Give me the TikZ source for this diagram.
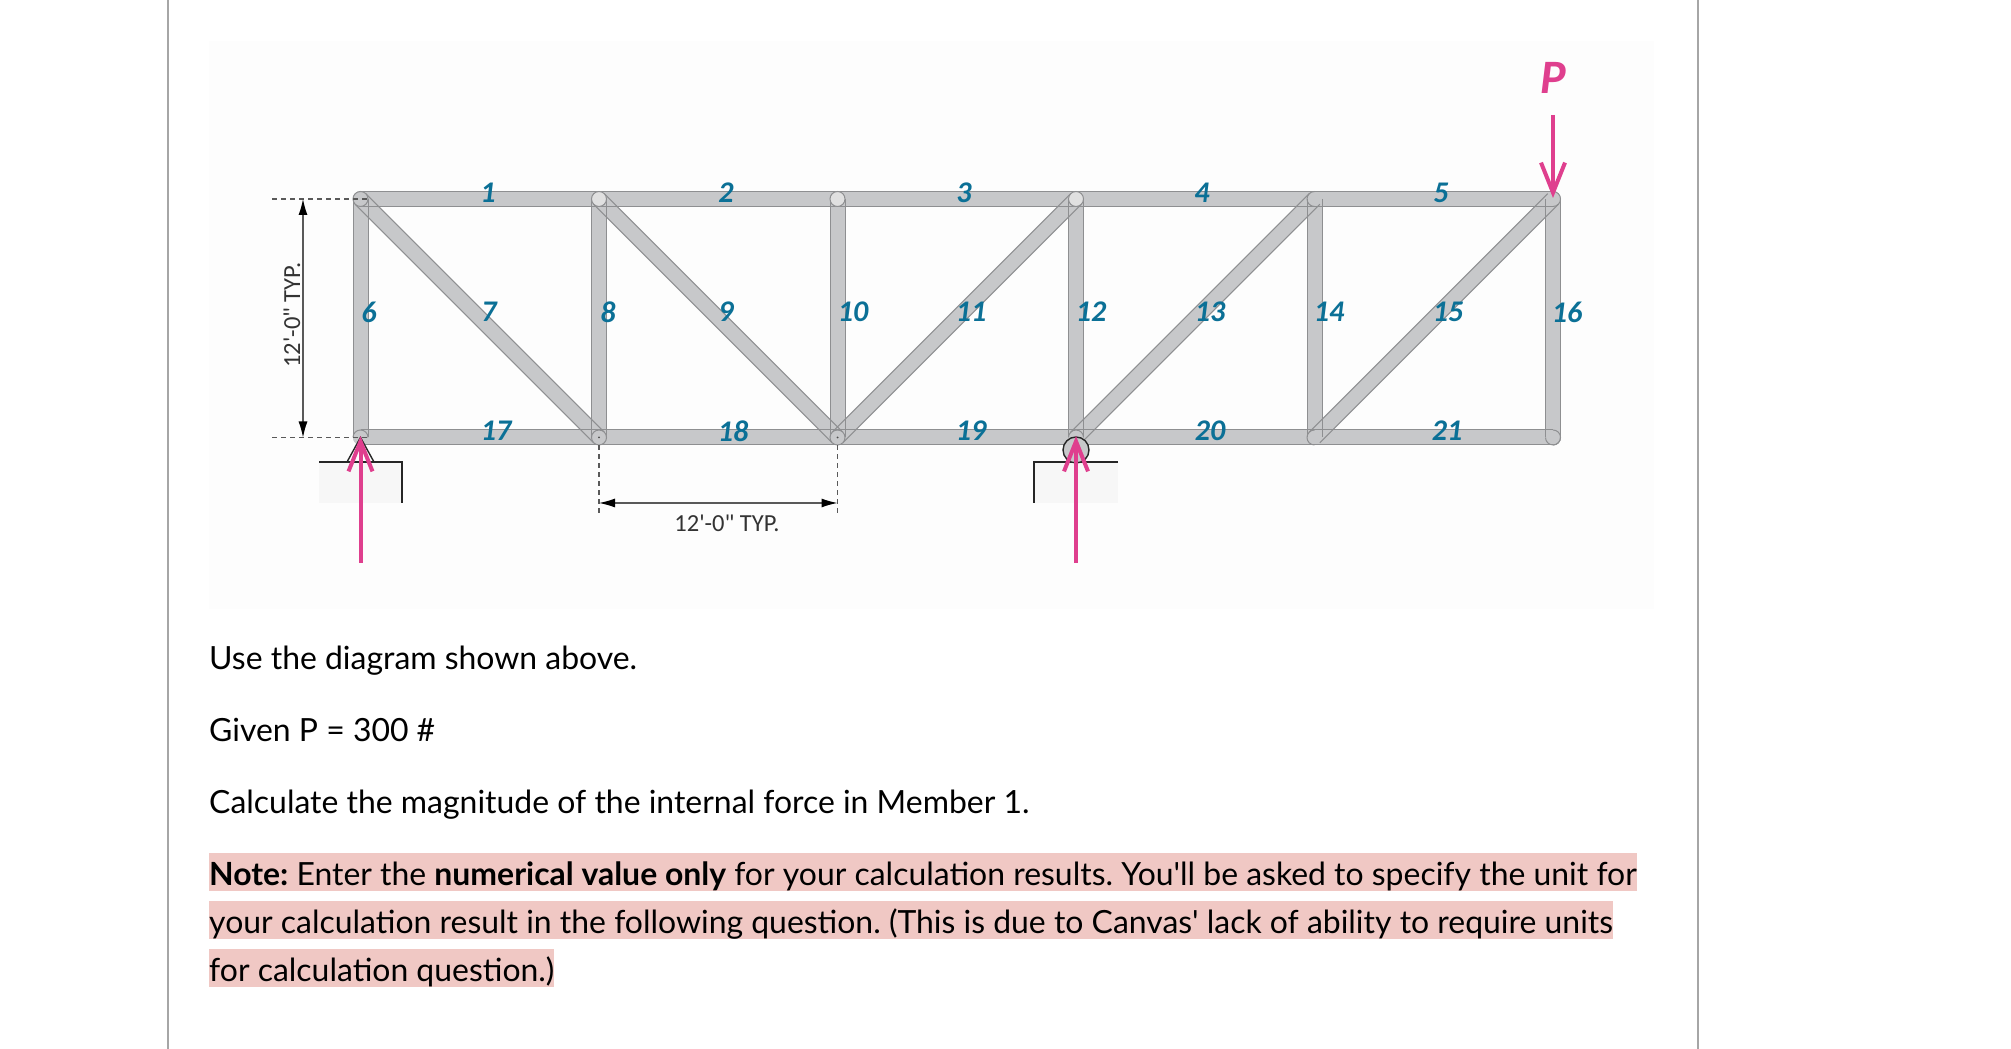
\documentclass[tikz,border=0pt]{standalone}
\usepackage{fontspec}
\setmainfont{Lato}[Ligatures=TeXOff]
\newfontfamily\labelfont{Carlito}[Ligatures=TeXOff]
\usepackage{tikz}
\usetikzlibrary{calc,arrows.meta}
\definecolor{barfill}{HTML}{C7C8CA}
\definecolor{baredge}{HTML}{8E8F91}
\definecolor{memblue}{HTML}{0B7096}
\definecolor{forcepink}{HTML}{DF3F8E}
\definecolor{notepink}{HTML}{F0C8C4}
\definecolor{framegray}{HTML}{A6A6A6}
\newcommand*{\barfill}[2]{\draw[barfill,line width=15,line cap=round] (#1) -- (#2);}
\newcommand*{\baredges}[2]{
  \draw[edgeline] ($(#1)!7.5pt!90:(#2)$) -- ($(#2)!7.5pt!-90:(#1)$);
  \draw[edgeline] ($(#1)!7.5pt!-90:(#2)$) -- ($(#2)!7.5pt!90:(#1)$);
}
\newcommand*{\ledge}[3]{
  \fill[black!3] (#1,546) rectangle (#2,587);
  \draw[line width=1.4,black!85] (#1,587) -- (#2,587) -- (#3,546);
}
\begin{document}
\frenchspacing
\begin{tikzpicture}[x=1pt,y=1pt]
\tikzstyle{edgeline}=[baredge,line width=1]
\tikzstyle{pinline}=[baredge,line width=1]
\tikzstyle{memlabel}=[memblue,inner sep=0pt,font=\labelfont\bfseries\itshape\fontsize{30}{30}\selectfont]
\tikzstyle{dimlabel}=[black!80,inner sep=0pt,font=\labelfont\fontsize{24.5}{25}\selectfont]
\tikzstyle{dimline}=[black!65,line width=1.2,{Latex[length=16,width=9,black]}-{Latex[length=16,width=9,black]}]
\tikzstyle{dimdash}=[black!65,line width=1.2,dash pattern=on 5pt off 4pt]
\tikzstyle{force}=[forcepink,line width=4,-{Straight Barb[length=30,width=24,line width=4]}]
\tikzstyle{bodytext}=[anchor=base west,inner sep=0pt,font=\fontsize{31.93}{32}\selectfont]
\tikzstyle{notetext}=[bodytext,fill=notepink,text height=32,text depth=6]
\useasboundingbox (0,0) rectangle (2011,1049);
\fill[white] (0,0) rectangle (2011,1049);
\fill[black!0.6] (209,440) rectangle (1654,1008);
\draw[framegray,line width=2] (168,0) -- (168,1049);
\draw[framegray,line width=2] (1698,0) -- (1698,1049);

% joints of the truss
\coordinate (t1) at (360.5,850);
\coordinate (t2) at (599,850);
\coordinate (t3) at (837.5,850);
\coordinate (t4) at (1076,850);
\coordinate (t5) at (1314.5,850);
\coordinate (t6) at (1553,850);
\coordinate (b1) at (360.5,611.5);
\coordinate (b2) at (599,611.5);
\coordinate (b3) at (837.5,611.5);
\coordinate (b4) at (1076,611.5);
\coordinate (b5) at (1314.5,611.5);
\coordinate (b6) at (1553,611.5);

\ledge{319}{402}{402}
\ledge{1118}{1034}{1034}

\barfill{t1}{b1}\barfill{t2}{b2}\barfill{t3}{b3}\barfill{t4}{b4}\barfill{t5}{b5}\barfill{t6}{b6}
\barfill{t1}{b2}\barfill{t2}{b3}\barfill{b3}{t4}\barfill{b4}{t5}\barfill{b5}{t6}
\barfill{t1}{t6}
\barfill{b1}{b6}

\baredges{t1}{b1}\baredges{t2}{b2}\baredges{t3}{b3}\baredges{t4}{b4}\baredges{t5}{b5}\baredges{t6}{b6}
\baredges{t1}{b2}\baredges{t2}{b3}\baredges{b3}{t4}\baredges{b4}{t5}\baredges{b5}{t6}
\baredges{t1}{t6}
\baredges{b1}{b6}

% pins at the joints
\draw[pinline,fill=barfill] (t1) circle (7.5);
\draw[pinline,fill=black!12] (t2) circle (7.5);
\draw[pinline,fill=black!12] (t3) circle (7.5);
\draw[pinline,fill=black!12] (t4) circle (7.5);
\draw[pinline,fill=barfill] (b2) circle (7.5);
\draw[pinline,fill=barfill] (b3) circle (7.5);
\fill[black!70] (b2) circle (1);
\fill[black!70] (b3) circle (1);
\draw[pinline] ($(t5)+(0,7.5)$) arc[start angle=90,delta angle=180,radius=7.5];
\draw[pinline] ($(t6)+(0,7.5)$) arc[start angle=90,delta angle=-180,radius=7.5];
\draw[pinline] ($(b1)+(-7.5,0)$) arc[start angle=180,delta angle=-180,radius=7.5];
\draw[pinline] ($(b4)+(-7.5,0)$) arc[start angle=180,delta angle=-180,radius=7.5];
\draw[pinline] ($(b5)+(0,7.5)$) arc[start angle=90,delta angle=180,radius=7.5];
\draw[pinline] ($(b6)+(0,7.5)$) arc[start angle=90,delta angle=-180,radius=7.5];
\draw[pinline] ($(b6)+(-7.5,0)$) arc[start angle=180,delta angle=180,radius=7.5];

% supports
\coordinate (sl) at (347,587);
\coordinate (sr) at (374,587);
\draw[line width=1.4,black!85] (sl) -- (b1) -- (sr);
\node[draw=black!85,line width=1.4,fill=barfill,circle,inner sep=0pt,minimum size=26] (roller) at (1076,599) {};

% member labels
\node[memlabel] (m1) at (488,856) {1};
\node[memlabel] (m2) at (726,856) {2};
\node[memlabel] (m3) at (964,856) {3};
\node[memlabel] (m4) at (1202,856) {4};
\node[memlabel] (m5) at (1441,856) {5};
\node[memlabel] (m6) at (369,737) {6};
\node[memlabel] (m7) at (489,737) {7};
\node[memlabel] (m8) at (608,737) {8};
\node[memlabel] (m9) at (726,737) {9};
\node[memlabel] (m10) at (853,737) {10};
\node[memlabel] (m11) at (971,737) {11};
\node[memlabel] (m12) at (1091,737) {12};
\node[memlabel] (m13) at (1210,737) {13};
\node[memlabel] (m14) at (1329,737) {14};
\node[memlabel] (m15) at (1448,737) {15};
\node[memlabel] (m16) at (1567,737) {16};
\node[memlabel] (m17) at (496,618) {17};
\node[memlabel] (m18) at (733,618) {18};
\node[memlabel] (m19) at (971,618) {19};
\node[memlabel] (m20) at (1210,618) {20};
\node[memlabel] (m21) at (1447,618) {21};

% forces
\coordinate (ra) at (360.5,486);
\coordinate (rb) at (1076,486);
\coordinate (ba) at (360.5,613);
\coordinate (bb) at (1076,613);
\draw[force] (ra) -- (ba);
\draw[force] (rb) -- (bb);
\node[forcepink,inner sep=0pt,font=\labelfont\bfseries\itshape\fontsize{48}{48}\selectfont] (pp) at (1553,971) {P};
\coordinate (pa) at (1553,934);
\coordinate (pb) at (1553,851);
\draw[force] (pa) -- (pb);

% dimensions
\coordinate (dt) at (272,850);
\coordinate (dte) at (370,850);
\coordinate (db) at (272,611.5);
\coordinate (dbe) at (370,611.5);
\draw[dimdash] (dt) -- (dte);
\draw[dimdash] (db) -- (dbe);
\draw[dimline] (303,850) coordinate (va) -- (303,611.5) coordinate (vb);
\node[dimlabel,rotate=90] (vdim) at (292,734) {12'-0" TYP.};
\coordinate (hl) at (599,546);
\coordinate (hr) at (837.5,546);
\draw[dimdash] (b2) ++(0,-8) -- ++(0,-70);
\draw[dimdash] (b3) ++(0,-8) -- ++(0,-70);
\draw[dimline] (hl) -- (hr);
\node[dimlabel] (hdim) at (727,526) {12'-0" TYP.};

% text under the diagram
\node[bodytext] (use) at (209,379.5) {Use the diagram shown above.};
\node[bodytext] (given) at (209,307.5) {Given P = 300 \#};
\node[bodytext] (calc) at (209,235.5) {Calculate the magnitude of the internal force in Member 1.};
\node[notetext] (note1) at (209,163.5) {\textbf{Note:} Enter the \textbf{numerical value only} for your calculation results. You'll be asked to specify the unit for};
\node[notetext] (note2) at (209,115.5) {your calculation result in the following question. (This is due to Canvas' lack of ability to require units};
\node[notetext] (note3) at (209,67.5) {for calculation question.)};
\end{tikzpicture}
\end{document}
